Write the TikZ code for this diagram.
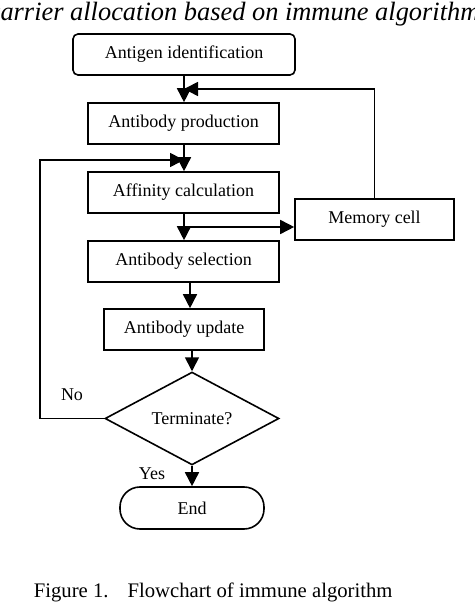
\documentclass[tikz,border=0pt]{standalone}
\usepackage{fontspec}
\setmainfont{Liberation Serif}
\usetikzlibrary{arrows.meta,shapes.geometric,positioning}

\begin{document}
\begin{tikzpicture}[x=1pt,y=1pt,
    >={Triangle[length=14pt,width=14pt]},
    line width=1.6pt,
    txt/.style={font=\fontsize{18}{21}\selectfont},
    box/.style={txt,draw,rectangle,inner sep=0pt,minimum height=41pt},
    roundbox/.style={box,rounded corners=5pt},
    endbox/.style={box,rounded corners=20pt,minimum height=42pt},
    decision/.style={txt,draw,diamond,inner sep=0pt,minimum width=174pt,minimum height=81pt}]
  \useasboundingbox (0,0) rectangle (474,605);
  \clip (0,0) rectangle (474,605);
  % title line
  \node[anchor=base west,inner sep=0pt,font=\fontsize{26.4}{30}\selectfont\itshape] (title) at (-12,584) {carrier allocation based on immune algorithm};
  % steps
  \node[roundbox,minimum width=222pt] (anti) at (184,550.5) {Antigen identification};
  \node[box,minimum width=191pt] (prod) at (183.5,481.5) {Antibody production};
  \node[box,minimum width=191pt] (aff) at (183.5,412.5) {Affinity calculation};
  \node[box,minimum width=159pt] (mem) at (374.5,385.5) {Memory cell};
  \node[box,minimum width=191pt] (sel) at (183.5,343.5) {Antibody selection};
  \node[box,minimum width=160pt] (upd) at (184,275.5) {Antibody update};
  \node[decision] (term) at (192,186.5) {Terminate?};
  \node[endbox,minimum width=144pt] (endn) at (192,97) {End};
  % branch labels
  \node[txt] (no) at (72,210) {No};
  \node[txt] (yes) at (152,131) {Yes};
  % joins
  \coordinate (memjoin) at (184,516);
  \coordinate (nojoin) at (184,445);
  \coordinate (affjoin) at (184,378);
  % flow
  \draw[->] (anti.south) -- (prod.north -| anti.south);
  \draw[->] (mem.north) |- (memjoin);
  \draw[->] (prod.south -| anti.south) -- (aff.north -| anti.south);
  \draw[->] (term.west) -- ++(-64,0) |- (nojoin);
  \draw[->] (aff.south -| anti.south) -- (sel.north -| anti.south);
  \draw[->] (affjoin) -- (affjoin -| mem.west);
  \draw[->] (sel.south -| 190,0) -- (upd.north -| 190,0);
  \draw[->] (upd.south -| term.north) -- (term.north);
  \draw[->] (term.south) -- (endn.north);
  % caption
  \node[anchor=base west,inner sep=0pt,font=\fontsize{20.7}{24}\selectfont] (cap) at (33,7) {Figure 1.\hspace{19pt}Flowchart of immune algorithm};
\end{tikzpicture}
\end{document}
